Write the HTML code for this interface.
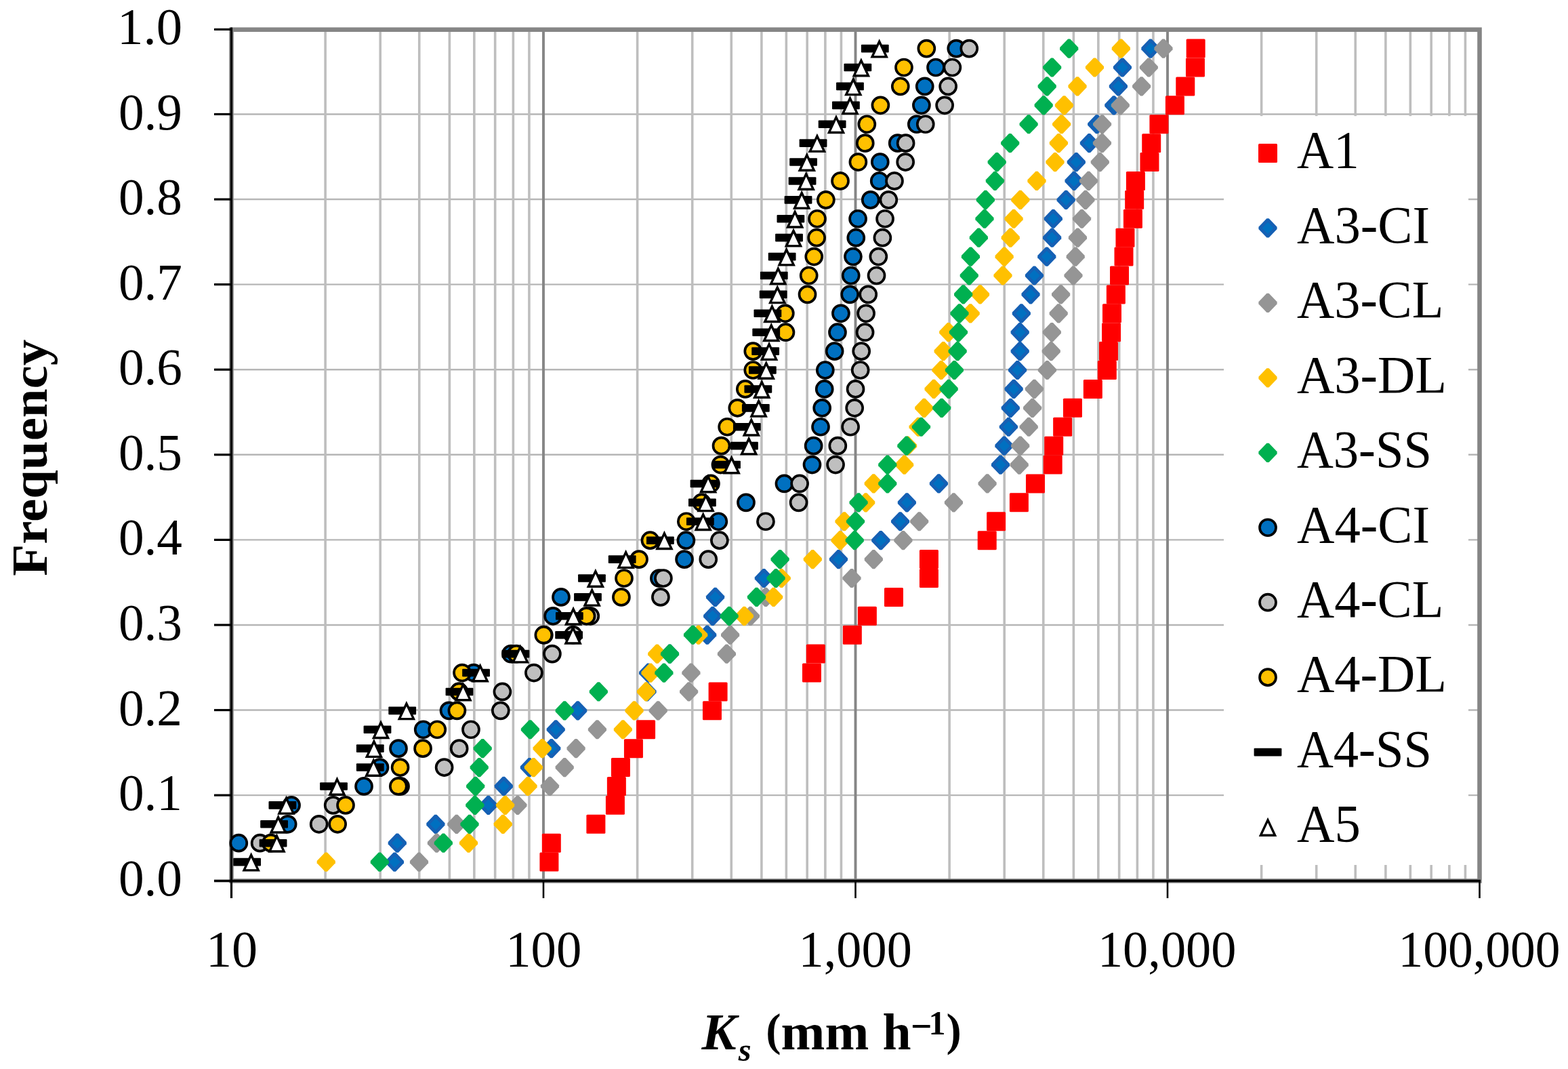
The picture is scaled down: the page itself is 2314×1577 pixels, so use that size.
<!DOCTYPE html><html><head><meta charset="utf-8"><style>html,body{margin:0;padding:0;background:#fff;}svg{display:block;}</style></head><body>
<svg width="2314" height="1577" viewBox="0 0 2314 1577">
<rect x="0" y="0" width="2314" height="1577" fill="#fff"/>
<defs>
<path id="dm" d="M-1.6,-14.1 L1.6,-14.1 L13.6,-1.6 L13.6,1.6 L1.6,14.1 L-1.6,14.1 L-13.6,1.6 L-13.6,-1.6 Z"/>
</defs>
<line x1="341.5" y1="1173.12" x2="2183.5" y2="1173.12" stroke="#B6B6B6" stroke-width="2.4"/>
<line x1="341.5" y1="1047.54" x2="2183.5" y2="1047.54" stroke="#B6B6B6" stroke-width="2.4"/>
<line x1="341.5" y1="921.96" x2="2183.5" y2="921.96" stroke="#B6B6B6" stroke-width="2.4"/>
<line x1="341.5" y1="796.38" x2="2183.5" y2="796.38" stroke="#B6B6B6" stroke-width="2.4"/>
<line x1="341.5" y1="670.80" x2="2183.5" y2="670.80" stroke="#B6B6B6" stroke-width="2.4"/>
<line x1="341.5" y1="545.22" x2="2183.5" y2="545.22" stroke="#B6B6B6" stroke-width="2.4"/>
<line x1="341.5" y1="419.64" x2="2183.5" y2="419.64" stroke="#B6B6B6" stroke-width="2.4"/>
<line x1="341.5" y1="294.06" x2="2183.5" y2="294.06" stroke="#B6B6B6" stroke-width="2.4"/>
<line x1="341.5" y1="168.48" x2="2183.5" y2="168.48" stroke="#B6B6B6" stroke-width="2.4"/>
<line x1="480.12" y1="43.7" x2="480.12" y2="1299.5" stroke="#BEBEBE" stroke-width="3.6"/>
<line x1="561.21" y1="43.7" x2="561.21" y2="1299.5" stroke="#BEBEBE" stroke-width="3.6"/>
<line x1="618.75" y1="43.7" x2="618.75" y2="1299.5" stroke="#BEBEBE" stroke-width="3.6"/>
<line x1="663.38" y1="43.7" x2="663.38" y2="1299.5" stroke="#BEBEBE" stroke-width="3.6"/>
<line x1="699.84" y1="43.7" x2="699.84" y2="1299.5" stroke="#BEBEBE" stroke-width="3.6"/>
<line x1="730.67" y1="43.7" x2="730.67" y2="1299.5" stroke="#BEBEBE" stroke-width="3.6"/>
<line x1="757.37" y1="43.7" x2="757.37" y2="1299.5" stroke="#BEBEBE" stroke-width="3.6"/>
<line x1="780.93" y1="43.7" x2="780.93" y2="1299.5" stroke="#BEBEBE" stroke-width="3.6"/>
<line x1="940.62" y1="43.7" x2="940.62" y2="1299.5" stroke="#BEBEBE" stroke-width="3.6"/>
<line x1="1021.71" y1="43.7" x2="1021.71" y2="1299.5" stroke="#BEBEBE" stroke-width="3.6"/>
<line x1="1079.25" y1="43.7" x2="1079.25" y2="1299.5" stroke="#BEBEBE" stroke-width="3.6"/>
<line x1="1123.88" y1="43.7" x2="1123.88" y2="1299.5" stroke="#BEBEBE" stroke-width="3.6"/>
<line x1="1160.34" y1="43.7" x2="1160.34" y2="1299.5" stroke="#BEBEBE" stroke-width="3.6"/>
<line x1="1191.17" y1="43.7" x2="1191.17" y2="1299.5" stroke="#BEBEBE" stroke-width="3.6"/>
<line x1="1217.87" y1="43.7" x2="1217.87" y2="1299.5" stroke="#BEBEBE" stroke-width="3.6"/>
<line x1="1241.43" y1="43.7" x2="1241.43" y2="1299.5" stroke="#BEBEBE" stroke-width="3.6"/>
<line x1="1401.12" y1="43.7" x2="1401.12" y2="1299.5" stroke="#BEBEBE" stroke-width="3.6"/>
<line x1="1482.21" y1="43.7" x2="1482.21" y2="1299.5" stroke="#BEBEBE" stroke-width="3.6"/>
<line x1="1539.75" y1="43.7" x2="1539.75" y2="1299.5" stroke="#BEBEBE" stroke-width="3.6"/>
<line x1="1584.38" y1="43.7" x2="1584.38" y2="1299.5" stroke="#BEBEBE" stroke-width="3.6"/>
<line x1="1620.84" y1="43.7" x2="1620.84" y2="1299.5" stroke="#BEBEBE" stroke-width="3.6"/>
<line x1="1651.67" y1="43.7" x2="1651.67" y2="1299.5" stroke="#BEBEBE" stroke-width="3.6"/>
<line x1="1678.37" y1="43.7" x2="1678.37" y2="1299.5" stroke="#BEBEBE" stroke-width="3.6"/>
<line x1="1701.93" y1="43.7" x2="1701.93" y2="1299.5" stroke="#BEBEBE" stroke-width="3.6"/>
<line x1="1861.62" y1="43.7" x2="1861.62" y2="1299.5" stroke="#BEBEBE" stroke-width="3.6"/>
<line x1="1942.71" y1="43.7" x2="1942.71" y2="1299.5" stroke="#BEBEBE" stroke-width="3.6"/>
<line x1="2000.25" y1="43.7" x2="2000.25" y2="1299.5" stroke="#BEBEBE" stroke-width="3.6"/>
<line x1="2044.88" y1="43.7" x2="2044.88" y2="1299.5" stroke="#BEBEBE" stroke-width="3.6"/>
<line x1="2081.34" y1="43.7" x2="2081.34" y2="1299.5" stroke="#BEBEBE" stroke-width="3.6"/>
<line x1="2112.17" y1="43.7" x2="2112.17" y2="1299.5" stroke="#BEBEBE" stroke-width="3.6"/>
<line x1="2138.87" y1="43.7" x2="2138.87" y2="1299.5" stroke="#BEBEBE" stroke-width="3.6"/>
<line x1="2162.43" y1="43.7" x2="2162.43" y2="1299.5" stroke="#BEBEBE" stroke-width="3.6"/>
<line x1="802.00" y1="43.7" x2="802.00" y2="1299.5" stroke="#868686" stroke-width="3.9"/>
<line x1="1262.50" y1="43.7" x2="1262.50" y2="1299.5" stroke="#868686" stroke-width="3.9"/>
<line x1="1723.00" y1="43.7" x2="1723.00" y2="1299.5" stroke="#868686" stroke-width="3.9"/>
<rect x="341.5" y="43.7" width="1842.0" height="1255.8" fill="none" stroke="#858585" stroke-width="6.6"/>
<line x1="341.5" y1="40.400000000000006" x2="341.5" y2="1325.0" stroke="#000" stroke-width="3.2"/>
<line x1="316" y1="1299.5" x2="2185.0" y2="1299.5" stroke="#000" stroke-width="3.4"/>
<line x1="316" y1="1299.50" x2="341.5" y2="1299.50" stroke="#000" stroke-width="3.2"/>
<line x1="316" y1="1173.12" x2="341.5" y2="1173.12" stroke="#000" stroke-width="3.2"/>
<line x1="316" y1="1047.54" x2="341.5" y2="1047.54" stroke="#000" stroke-width="3.2"/>
<line x1="316" y1="921.96" x2="341.5" y2="921.96" stroke="#000" stroke-width="3.2"/>
<line x1="316" y1="796.38" x2="341.5" y2="796.38" stroke="#000" stroke-width="3.2"/>
<line x1="316" y1="670.80" x2="341.5" y2="670.80" stroke="#000" stroke-width="3.2"/>
<line x1="316" y1="545.22" x2="341.5" y2="545.22" stroke="#000" stroke-width="3.2"/>
<line x1="316" y1="419.64" x2="341.5" y2="419.64" stroke="#000" stroke-width="3.2"/>
<line x1="316" y1="294.06" x2="341.5" y2="294.06" stroke="#000" stroke-width="3.2"/>
<line x1="316" y1="168.48" x2="341.5" y2="168.48" stroke="#000" stroke-width="3.2"/>
<line x1="316" y1="43.40" x2="341.5" y2="43.40" stroke="#000" stroke-width="3.2"/>
<line x1="802.00" y1="1299.5" x2="802.00" y2="1325.0" stroke="#000" stroke-width="2.6"/>
<line x1="1262.50" y1="1299.5" x2="1262.50" y2="1325.0" stroke="#000" stroke-width="2.6"/>
<line x1="1723.00" y1="1299.5" x2="1723.00" y2="1325.0" stroke="#000" stroke-width="2.6"/>
<line x1="2183.50" y1="1299.5" x2="2183.50" y2="1325.0" stroke="#000" stroke-width="2.6"/>
<rect x="1806" y="171.2" width="361" height="1104.8" fill="#fff"/>
<g>
<rect x="796.42" y="1257.59" width="28" height="28" rx="1.5" fill="#FF0000"/>
<rect x="799.82" y="1229.69" width="28" height="28" rx="1.5" fill="#FF0000"/>
<rect x="865.39" y="1201.78" width="28" height="28" rx="1.5" fill="#FF0000"/>
<rect x="893.92" y="1173.87" width="28" height="28" rx="1.5" fill="#FF0000"/>
<rect x="895.86" y="1145.97" width="28" height="28" rx="1.5" fill="#FF0000"/>
<rect x="901.91" y="1118.06" width="28" height="28" rx="1.5" fill="#FF0000"/>
<rect x="920.93" y="1090.15" width="28" height="28" rx="1.5" fill="#FF0000"/>
<rect x="939.08" y="1062.25" width="28" height="28" rx="1.5" fill="#FF0000"/>
<rect x="1036.96" y="1034.34" width="28" height="28" rx="1.5" fill="#FF0000"/>
<rect x="1045.60" y="1006.43" width="28" height="28" rx="1.5" fill="#FF0000"/>
<rect x="1183.97" y="978.53" width="28" height="28" rx="1.5" fill="#FF0000"/>
<rect x="1189.80" y="950.62" width="28" height="28" rx="1.5" fill="#FF0000"/>
<rect x="1243.82" y="922.71" width="28" height="28" rx="1.5" fill="#FF0000"/>
<rect x="1265.86" y="894.81" width="28" height="28" rx="1.5" fill="#FF0000"/>
<rect x="1304.97" y="866.90" width="28" height="28" rx="1.5" fill="#FF0000"/>
<rect x="1356.92" y="838.99" width="28" height="28" rx="1.5" fill="#FF0000"/>
<rect x="1356.92" y="811.09" width="28" height="28" rx="1.5" fill="#FF0000"/>
<rect x="1442.70" y="783.18" width="28" height="28" rx="1.5" fill="#FF0000"/>
<rect x="1456.10" y="755.27" width="28" height="28" rx="1.5" fill="#FF0000"/>
<rect x="1489.89" y="727.37" width="28" height="28" rx="1.5" fill="#FF0000"/>
<rect x="1513.96" y="699.46" width="28" height="28" rx="1.5" fill="#FF0000"/>
<rect x="1539.67" y="671.55" width="28" height="28" rx="1.5" fill="#FF0000"/>
<rect x="1541.19" y="643.65" width="28" height="28" rx="1.5" fill="#FF0000"/>
<rect x="1554.15" y="615.74" width="28" height="28" rx="1.5" fill="#FF0000"/>
<rect x="1568.93" y="587.83" width="28" height="28" rx="1.5" fill="#FF0000"/>
<rect x="1598.83" y="559.93" width="28" height="28" rx="1.5" fill="#FF0000"/>
<rect x="1619.79" y="532.02" width="28" height="28" rx="1.5" fill="#FF0000"/>
<rect x="1621.96" y="504.11" width="28" height="28" rx="1.5" fill="#FF0000"/>
<rect x="1626.06" y="476.21" width="28" height="28" rx="1.5" fill="#FF0000"/>
<rect x="1626.97" y="448.30" width="28" height="28" rx="1.5" fill="#FF0000"/>
<rect x="1632.85" y="420.39" width="28" height="28" rx="1.5" fill="#FF0000"/>
<rect x="1638.03" y="392.49" width="28" height="28" rx="1.5" fill="#FF0000"/>
<rect x="1644.51" y="364.58" width="28" height="28" rx="1.5" fill="#FF0000"/>
<rect x="1646.46" y="336.67" width="28" height="28" rx="1.5" fill="#FF0000"/>
<rect x="1657.91" y="308.77" width="28" height="28" rx="1.5" fill="#FF0000"/>
<rect x="1660.16" y="280.86" width="28" height="28" rx="1.5" fill="#FF0000"/>
<rect x="1661.89" y="252.95" width="28" height="28" rx="1.5" fill="#FF0000"/>
<rect x="1682.46" y="225.05" width="28" height="28" rx="1.5" fill="#FF0000"/>
<rect x="1685.22" y="197.14" width="28" height="28" rx="1.5" fill="#FF0000"/>
<rect x="1696.41" y="169.23" width="28" height="28" rx="1.5" fill="#FF0000"/>
<rect x="1719.88" y="141.33" width="28" height="28" rx="1.5" fill="#FF0000"/>
<rect x="1735.27" y="113.42" width="28" height="28" rx="1.5" fill="#FF0000"/>
<rect x="1749.96" y="85.51" width="28" height="28" rx="1.5" fill="#FF0000"/>
<rect x="1750.65" y="57.61" width="28" height="28" rx="1.5" fill="#FF0000"/>
<use href="#dm" x="582.41" y="1271.59" fill="#1560B4"/><path d="M582.41,1262.99 L590.81,1271.59 L582.41,1280.19 L574.01,1271.59 Z" fill="#0070C0"/>
<use href="#dm" x="586.30" y="1243.69" fill="#1560B4"/><path d="M586.30,1235.09 L594.70,1243.69 L586.30,1252.29 L577.90,1243.69 Z" fill="#0070C0"/>
<use href="#dm" x="642.91" y="1215.78" fill="#1560B4"/><path d="M642.91,1207.18 L651.31,1215.78 L642.91,1224.38 L634.51,1215.78 Z" fill="#0070C0"/>
<use href="#dm" x="720.70" y="1187.87" fill="#1560B4"/><path d="M720.70,1179.27 L729.10,1187.87 L720.70,1196.47 L712.30,1187.87 Z" fill="#0070C0"/>
<use href="#dm" x="743.38" y="1159.97" fill="#1560B4"/><path d="M743.38,1151.37 L751.78,1159.97 L743.38,1168.57 L734.98,1159.97 Z" fill="#0070C0"/>
<use href="#dm" x="781.37" y="1132.06" fill="#1560B4"/><path d="M781.37,1123.46 L789.77,1132.06 L781.37,1140.66 L772.97,1132.06 Z" fill="#0070C0"/>
<use href="#dm" x="813.79" y="1104.15" fill="#1560B4"/><path d="M813.79,1095.55 L822.19,1104.15 L813.79,1112.75 L805.39,1104.15 Z" fill="#0070C0"/>
<use href="#dm" x="820.27" y="1076.25" fill="#1560B4"/><path d="M820.27,1067.65 L828.67,1076.25 L820.27,1084.85 L811.87,1076.25 Z" fill="#0070C0"/>
<use href="#dm" x="852.68" y="1048.34" fill="#1560B4"/><path d="M852.68,1039.74 L861.08,1048.34 L852.68,1056.94 L844.28,1048.34 Z" fill="#0070C0"/>
<use href="#dm" x="955.02" y="1020.43" fill="#1560B4"/><path d="M955.02,1011.83 L963.42,1020.43 L955.02,1029.03 L946.62,1020.43 Z" fill="#0070C0"/>
<use href="#dm" x="956.64" y="992.53" fill="#1560B4"/><path d="M956.64,983.93 L965.04,992.53 L956.64,1001.13 L948.24,992.53 Z" fill="#0070C0"/>
<use href="#dm" x="988.43" y="964.62" fill="#1560B4"/><path d="M988.43,956.02 L996.83,964.62 L988.43,973.22 L980.03,964.62 Z" fill="#0070C0"/>
<use href="#dm" x="1043.69" y="936.71" fill="#1560B4"/><path d="M1043.69,928.11 L1052.09,936.71 L1043.69,945.31 L1035.29,936.71 Z" fill="#0070C0"/>
<use href="#dm" x="1051.69" y="908.81" fill="#1560B4"/><path d="M1051.69,900.21 L1060.09,908.81 L1051.69,917.41 L1043.29,908.81 Z" fill="#0070C0"/>
<use href="#dm" x="1055.57" y="880.90" fill="#1560B4"/><path d="M1055.57,872.30 L1063.97,880.90 L1055.57,889.50 L1047.17,880.90 Z" fill="#0070C0"/>
<use href="#dm" x="1127.36" y="852.99" fill="#1560B4"/><path d="M1127.36,844.39 L1135.76,852.99 L1127.36,861.59 L1118.96,852.99 Z" fill="#0070C0"/>
<use href="#dm" x="1237.47" y="825.09" fill="#1560B4"/><path d="M1237.47,816.49 L1245.87,825.09 L1237.47,833.69 L1229.07,825.09 Z" fill="#0070C0"/>
<use href="#dm" x="1299.83" y="797.18" fill="#1560B4"/><path d="M1299.83,788.58 L1308.23,797.18 L1299.83,805.78 L1291.43,797.18 Z" fill="#0070C0"/>
<use href="#dm" x="1328.57" y="769.27" fill="#1560B4"/><path d="M1328.57,760.67 L1336.97,769.27 L1328.57,777.87 L1320.17,769.27 Z" fill="#0070C0"/>
<use href="#dm" x="1338.38" y="741.37" fill="#1560B4"/><path d="M1338.38,732.77 L1346.78,741.37 L1338.38,749.97 L1329.98,741.37 Z" fill="#0070C0"/>
<use href="#dm" x="1385.39" y="713.46" fill="#1560B4"/><path d="M1385.39,704.86 L1393.79,713.46 L1385.39,722.06 L1376.99,713.46 Z" fill="#0070C0"/>
<use href="#dm" x="1476.53" y="685.55" fill="#1560B4"/><path d="M1476.53,676.95 L1484.93,685.55 L1476.53,694.15 L1468.13,685.55 Z" fill="#0070C0"/>
<use href="#dm" x="1481.94" y="657.65" fill="#1560B4"/><path d="M1481.94,649.05 L1490.34,657.65 L1481.94,666.25 L1473.54,657.65 Z" fill="#0070C0"/>
<use href="#dm" x="1488.42" y="629.74" fill="#1560B4"/><path d="M1488.42,621.14 L1496.82,629.74 L1488.42,638.34 L1480.02,629.74 Z" fill="#0070C0"/>
<use href="#dm" x="1491.31" y="601.83" fill="#1560B4"/><path d="M1491.31,593.23 L1499.71,601.83 L1491.31,610.43 L1482.91,601.83 Z" fill="#0070C0"/>
<use href="#dm" x="1496.15" y="573.93" fill="#1560B4"/><path d="M1496.15,565.33 L1504.55,573.93 L1496.15,582.53 L1487.75,573.93 Z" fill="#0070C0"/>
<use href="#dm" x="1501.56" y="546.02" fill="#1560B4"/><path d="M1501.56,537.42 L1509.96,546.02 L1501.56,554.62 L1493.16,546.02 Z" fill="#0070C0"/>
<use href="#dm" x="1505.23" y="518.11" fill="#1560B4"/><path d="M1505.23,509.51 L1513.63,518.11 L1505.23,526.71 L1496.83,518.11 Z" fill="#0070C0"/>
<use href="#dm" x="1505.23" y="490.21" fill="#1560B4"/><path d="M1505.23,481.61 L1513.63,490.21 L1505.23,498.81 L1496.83,490.21 Z" fill="#0070C0"/>
<use href="#dm" x="1507.32" y="462.30" fill="#1560B4"/><path d="M1507.32,453.70 L1515.72,462.30 L1507.32,470.90 L1498.92,462.30 Z" fill="#0070C0"/>
<use href="#dm" x="1521.05" y="434.39" fill="#1560B4"/><path d="M1521.05,425.79 L1529.45,434.39 L1521.05,442.99 L1512.65,434.39 Z" fill="#0070C0"/>
<use href="#dm" x="1526.45" y="406.49" fill="#1560B4"/><path d="M1526.45,397.89 L1534.85,406.49 L1526.45,415.09 L1518.05,406.49 Z" fill="#0070C0"/>
<use href="#dm" x="1544.81" y="378.58" fill="#1560B4"/><path d="M1544.81,369.98 L1553.21,378.58 L1544.81,387.18 L1536.41,378.58 Z" fill="#0070C0"/>
<use href="#dm" x="1552.64" y="350.67" fill="#1560B4"/><path d="M1552.64,342.07 L1561.04,350.67 L1552.64,359.27 L1544.24,350.67 Z" fill="#0070C0"/>
<use href="#dm" x="1554.36" y="322.77" fill="#1560B4"/><path d="M1554.36,314.17 L1562.76,322.77 L1554.36,331.37 L1545.96,322.77 Z" fill="#0070C0"/>
<use href="#dm" x="1573.21" y="294.86" fill="#1560B4"/><path d="M1573.21,286.26 L1581.61,294.86 L1573.21,303.46 L1564.81,294.86 Z" fill="#0070C0"/>
<use href="#dm" x="1585.09" y="266.95" fill="#1560B4"/><path d="M1585.09,258.35 L1593.49,266.95 L1585.09,275.55 L1576.69,266.95 Z" fill="#0070C0"/>
<use href="#dm" x="1588.33" y="239.05" fill="#1560B4"/><path d="M1588.33,230.45 L1596.73,239.05 L1588.33,247.65 L1579.93,239.05 Z" fill="#0070C0"/>
<use href="#dm" x="1607.43" y="211.14" fill="#1560B4"/><path d="M1607.43,202.54 L1615.83,211.14 L1607.43,219.74 L1599.03,211.14 Z" fill="#0070C0"/>
<use href="#dm" x="1618.71" y="183.23" fill="#1560B4"/><path d="M1618.71,174.63 L1627.11,183.23 L1618.71,191.83 L1610.31,183.23 Z" fill="#0070C0"/>
<use href="#dm" x="1643.82" y="155.33" fill="#1560B4"/><path d="M1643.82,146.73 L1652.22,155.33 L1643.82,163.93 L1635.42,155.33 Z" fill="#0070C0"/>
<use href="#dm" x="1650.39" y="127.42" fill="#1560B4"/><path d="M1650.39,118.82 L1658.79,127.42 L1650.39,136.02 L1641.99,127.42 Z" fill="#0070C0"/>
<use href="#dm" x="1656.44" y="99.51" fill="#1560B4"/><path d="M1656.44,90.91 L1664.84,99.51 L1656.44,108.11 L1648.04,99.51 Z" fill="#0070C0"/>
<use href="#dm" x="1697.93" y="71.61" fill="#1560B4"/><path d="M1697.93,63.01 L1706.33,71.61 L1697.93,80.21 L1689.53,71.61 Z" fill="#0070C0"/>
<use href="#dm" x="618.49" y="1271.59" fill="#959595"/>
<use href="#dm" x="644.42" y="1243.69" fill="#959595"/>
<use href="#dm" x="673.81" y="1215.78" fill="#959595"/>
<use href="#dm" x="763.91" y="1187.87" fill="#959595"/>
<use href="#dm" x="811.45" y="1159.97" fill="#959595"/>
<use href="#dm" x="833.23" y="1132.06" fill="#959595"/>
<use href="#dm" x="850.09" y="1104.15" fill="#959595"/>
<use href="#dm" x="881.42" y="1076.25" fill="#959595"/>
<use href="#dm" x="971.23" y="1048.34" fill="#959595"/>
<use href="#dm" x="1016.60" y="1020.43" fill="#959595"/>
<use href="#dm" x="1019.89" y="992.53" fill="#959595"/>
<use href="#dm" x="1072.43" y="964.62" fill="#959595"/>
<use href="#dm" x="1077.61" y="936.71" fill="#959595"/>
<use href="#dm" x="1107.43" y="908.81" fill="#959595"/>
<use href="#dm" x="1130.12" y="880.90" fill="#959595"/>
<use href="#dm" x="1257.00" y="852.99" fill="#959595"/>
<use href="#dm" x="1289.33" y="825.09" fill="#959595"/>
<use href="#dm" x="1332.89" y="797.18" fill="#959595"/>
<use href="#dm" x="1356.66" y="769.27" fill="#959595"/>
<use href="#dm" x="1407.41" y="741.37" fill="#959595"/>
<use href="#dm" x="1457.09" y="713.46" fill="#959595"/>
<use href="#dm" x="1504.19" y="685.55" fill="#959595"/>
<use href="#dm" x="1505.70" y="657.65" fill="#959595"/>
<use href="#dm" x="1518.24" y="629.74" fill="#959595"/>
<use href="#dm" x="1523.62" y="601.83" fill="#959595"/>
<use href="#dm" x="1526.40" y="573.93" fill="#959595"/>
<use href="#dm" x="1545.42" y="546.02" fill="#959595"/>
<use href="#dm" x="1551.25" y="518.11" fill="#959595"/>
<use href="#dm" x="1552.33" y="490.21" fill="#959595"/>
<use href="#dm" x="1562.21" y="462.30" fill="#959595"/>
<use href="#dm" x="1565.60" y="434.39" fill="#959595"/>
<use href="#dm" x="1583.97" y="406.49" fill="#959595"/>
<use href="#dm" x="1587.21" y="378.58" fill="#959595"/>
<use href="#dm" x="1590.45" y="350.67" fill="#959595"/>
<use href="#dm" x="1596.52" y="322.77" fill="#959595"/>
<use href="#dm" x="1601.90" y="294.86" fill="#959595"/>
<use href="#dm" x="1606.57" y="266.95" fill="#959595"/>
<use href="#dm" x="1623.34" y="239.05" fill="#959595"/>
<use href="#dm" x="1626.45" y="211.14" fill="#959595"/>
<use href="#dm" x="1626.58" y="183.23" fill="#959595"/>
<use href="#dm" x="1653.33" y="155.33" fill="#959595"/>
<use href="#dm" x="1684.62" y="127.42" fill="#959595"/>
<use href="#dm" x="1695.33" y="99.51" fill="#959595"/>
<use href="#dm" x="1716.94" y="71.61" fill="#959595"/>
<use href="#dm" x="481.28" y="1271.59" fill="#FFC000"/>
<use href="#dm" x="691.53" y="1243.69" fill="#FFC000"/>
<use href="#dm" x="742.30" y="1215.78" fill="#FFC000"/>
<use href="#dm" x="745.54" y="1187.87" fill="#FFC000"/>
<use href="#dm" x="779.04" y="1159.97" fill="#FFC000"/>
<use href="#dm" x="787.42" y="1132.06" fill="#FFC000"/>
<use href="#dm" x="800.17" y="1104.15" fill="#FFC000"/>
<use href="#dm" x="919.37" y="1076.25" fill="#FFC000"/>
<use href="#dm" x="936.01" y="1048.34" fill="#FFC000"/>
<use href="#dm" x="953.51" y="1020.43" fill="#FFC000"/>
<use href="#dm" x="960.03" y="992.53" fill="#FFC000"/>
<use href="#dm" x="969.76" y="964.62" fill="#FFC000"/>
<use href="#dm" x="1030.73" y="936.71" fill="#FFC000"/>
<use href="#dm" x="1098.36" y="908.81" fill="#FFC000"/>
<use href="#dm" x="1141.57" y="880.90" fill="#FFC000"/>
<use href="#dm" x="1153.28" y="852.99" fill="#FFC000"/>
<use href="#dm" x="1199.31" y="825.09" fill="#FFC000"/>
<use href="#dm" x="1240.06" y="797.18" fill="#FFC000"/>
<use href="#dm" x="1246.00" y="769.27" fill="#FFC000"/>
<use href="#dm" x="1277.66" y="741.37" fill="#FFC000"/>
<use href="#dm" x="1289.24" y="713.46" fill="#FFC000"/>
<use href="#dm" x="1334.62" y="685.55" fill="#FFC000"/>
<use href="#dm" x="1339.59" y="657.65" fill="#FFC000"/>
<use href="#dm" x="1355.14" y="629.74" fill="#FFC000"/>
<use href="#dm" x="1363.79" y="601.83" fill="#FFC000"/>
<use href="#dm" x="1378.13" y="573.93" fill="#FFC000"/>
<use href="#dm" x="1388.94" y="546.02" fill="#FFC000"/>
<use href="#dm" x="1392.18" y="518.11" fill="#FFC000"/>
<use href="#dm" x="1399.74" y="490.21" fill="#FFC000"/>
<use href="#dm" x="1432.15" y="462.30" fill="#FFC000"/>
<use href="#dm" x="1446.50" y="434.39" fill="#FFC000"/>
<use href="#dm" x="1479.99" y="406.49" fill="#FFC000"/>
<use href="#dm" x="1482.15" y="378.58" fill="#FFC000"/>
<use href="#dm" x="1491.25" y="350.67" fill="#FFC000"/>
<use href="#dm" x="1496.11" y="322.77" fill="#FFC000"/>
<use href="#dm" x="1505.79" y="294.86" fill="#FFC000"/>
<use href="#dm" x="1529.99" y="266.95" fill="#FFC000"/>
<use href="#dm" x="1557.00" y="239.05" fill="#FFC000"/>
<use href="#dm" x="1562.40" y="211.14" fill="#FFC000"/>
<use href="#dm" x="1566.64" y="183.23" fill="#FFC000"/>
<use href="#dm" x="1570.48" y="155.33" fill="#FFC000"/>
<use href="#dm" x="1590.02" y="127.42" fill="#FFC000"/>
<use href="#dm" x="1615.47" y="99.51" fill="#FFC000"/>
<use href="#dm" x="1654.36" y="71.61" fill="#FFC000"/>
<use href="#dm" x="560.37" y="1271.59" fill="#00B050"/>
<use href="#dm" x="654.36" y="1243.69" fill="#00B050"/>
<use href="#dm" x="693.04" y="1215.78" fill="#00B050"/>
<use href="#dm" x="700.82" y="1187.87" fill="#00B050"/>
<use href="#dm" x="701.68" y="1159.97" fill="#00B050"/>
<use href="#dm" x="707.26" y="1132.06" fill="#00B050"/>
<use href="#dm" x="712.23" y="1104.15" fill="#00B050"/>
<use href="#dm" x="782.45" y="1076.25" fill="#00B050"/>
<use href="#dm" x="833.23" y="1048.34" fill="#00B050"/>
<use href="#dm" x="883.36" y="1020.43" fill="#00B050"/>
<use href="#dm" x="979.87" y="992.53" fill="#00B050"/>
<use href="#dm" x="988.51" y="964.62" fill="#00B050"/>
<use href="#dm" x="1022.52" y="936.71" fill="#00B050"/>
<use href="#dm" x="1076.10" y="908.81" fill="#00B050"/>
<use href="#dm" x="1116.51" y="880.90" fill="#00B050"/>
<use href="#dm" x="1145.07" y="852.99" fill="#00B050"/>
<use href="#dm" x="1151.12" y="825.09" fill="#00B050"/>
<use href="#dm" x="1261.24" y="797.18" fill="#00B050"/>
<use href="#dm" x="1262.53" y="769.27" fill="#00B050"/>
<use href="#dm" x="1267.07" y="741.37" fill="#00B050"/>
<use href="#dm" x="1309.77" y="713.46" fill="#00B050"/>
<use href="#dm" x="1309.77" y="685.55" fill="#00B050"/>
<use href="#dm" x="1337.86" y="657.65" fill="#00B050"/>
<use href="#dm" x="1359.46" y="629.74" fill="#00B050"/>
<use href="#dm" x="1389.71" y="601.83" fill="#00B050"/>
<use href="#dm" x="1400.17" y="573.93" fill="#00B050"/>
<use href="#dm" x="1408.38" y="546.02" fill="#00B050"/>
<use href="#dm" x="1413.14" y="518.11" fill="#00B050"/>
<use href="#dm" x="1414.43" y="490.21" fill="#00B050"/>
<use href="#dm" x="1415.95" y="462.30" fill="#00B050"/>
<use href="#dm" x="1421.65" y="434.39" fill="#00B050"/>
<use href="#dm" x="1430.29" y="406.49" fill="#00B050"/>
<use href="#dm" x="1432.45" y="378.58" fill="#00B050"/>
<use href="#dm" x="1444.34" y="350.67" fill="#00B050"/>
<use href="#dm" x="1452.98" y="322.77" fill="#00B050"/>
<use href="#dm" x="1454.36" y="294.86" fill="#00B050"/>
<use href="#dm" x="1468.41" y="266.95" fill="#00B050"/>
<use href="#dm" x="1471.22" y="239.05" fill="#00B050"/>
<use href="#dm" x="1490.67" y="211.14" fill="#00B050"/>
<use href="#dm" x="1518.13" y="183.23" fill="#00B050"/>
<use href="#dm" x="1540.19" y="155.33" fill="#00B050"/>
<use href="#dm" x="1545.20" y="127.42" fill="#00B050"/>
<use href="#dm" x="1552.64" y="99.51" fill="#00B050"/>
<use href="#dm" x="1577.70" y="71.61" fill="#00B050"/>
<circle cx="352.29" cy="1243.69" r="12" fill="#0070C0" stroke="#000" stroke-width="3.7"/>
<circle cx="424.67" cy="1215.78" r="12" fill="#0070C0" stroke="#000" stroke-width="3.7"/>
<circle cx="430.07" cy="1187.87" r="12" fill="#0070C0" stroke="#000" stroke-width="3.7"/>
<circle cx="537.03" cy="1159.97" r="12" fill="#0070C0" stroke="#000" stroke-width="3.7"/>
<circle cx="560.54" cy="1132.06" r="12" fill="#0070C0" stroke="#000" stroke-width="3.7"/>
<circle cx="587.99" cy="1104.15" r="12" fill="#0070C0" stroke="#000" stroke-width="3.7"/>
<circle cx="624.72" cy="1076.25" r="12" fill="#0070C0" stroke="#000" stroke-width="3.7"/>
<circle cx="662.53" cy="1048.34" r="12" fill="#0070C0" stroke="#000" stroke-width="3.7"/>
<circle cx="677.40" cy="1020.43" r="12" fill="#0070C0" stroke="#000" stroke-width="3.7"/>
<circle cx="699.00" cy="992.53" r="12" fill="#0070C0" stroke="#000" stroke-width="3.7"/>
<circle cx="754.00" cy="964.62" r="12" fill="#0070C0" stroke="#000" stroke-width="3.7"/>
<circle cx="802.82" cy="936.71" r="12" fill="#0070C0" stroke="#000" stroke-width="3.7"/>
<circle cx="816.13" cy="908.81" r="12" fill="#0070C0" stroke="#000" stroke-width="3.7"/>
<circle cx="828.01" cy="880.90" r="12" fill="#0070C0" stroke="#000" stroke-width="3.7"/>
<circle cx="972.86" cy="852.99" r="12" fill="#0070C0" stroke="#000" stroke-width="3.7"/>
<circle cx="1010.03" cy="825.09" r="12" fill="#0070C0" stroke="#000" stroke-width="3.7"/>
<circle cx="1012.40" cy="797.18" r="12" fill="#0070C0" stroke="#000" stroke-width="3.7"/>
<circle cx="1060.37" cy="769.27" r="12" fill="#0070C0" stroke="#000" stroke-width="3.7"/>
<circle cx="1100.99" cy="741.37" r="12" fill="#0070C0" stroke="#000" stroke-width="3.7"/>
<circle cx="1157.43" cy="713.46" r="12" fill="#0070C0" stroke="#000" stroke-width="3.7"/>
<circle cx="1198.49" cy="685.55" r="12" fill="#0070C0" stroke="#000" stroke-width="3.7"/>
<circle cx="1200.65" cy="657.65" r="12" fill="#0070C0" stroke="#000" stroke-width="3.7"/>
<circle cx="1211.02" cy="629.74" r="12" fill="#0070C0" stroke="#000" stroke-width="3.7"/>
<circle cx="1213.18" cy="601.83" r="12" fill="#0070C0" stroke="#000" stroke-width="3.7"/>
<circle cx="1216.72" cy="573.93" r="12" fill="#0070C0" stroke="#000" stroke-width="3.7"/>
<circle cx="1217.80" cy="546.02" r="12" fill="#0070C0" stroke="#000" stroke-width="3.7"/>
<circle cx="1231.63" cy="518.11" r="12" fill="#0070C0" stroke="#000" stroke-width="3.7"/>
<circle cx="1235.96" cy="490.21" r="12" fill="#0070C0" stroke="#000" stroke-width="3.7"/>
<circle cx="1240.92" cy="462.30" r="12" fill="#0070C0" stroke="#000" stroke-width="3.7"/>
<circle cx="1254.19" cy="434.39" r="12" fill="#0070C0" stroke="#000" stroke-width="3.7"/>
<circle cx="1255.70" cy="406.49" r="12" fill="#0070C0" stroke="#000" stroke-width="3.7"/>
<circle cx="1258.95" cy="378.58" r="12" fill="#0070C0" stroke="#000" stroke-width="3.7"/>
<circle cx="1263.27" cy="350.67" r="12" fill="#0070C0" stroke="#000" stroke-width="3.7"/>
<circle cx="1266.08" cy="322.77" r="12" fill="#0070C0" stroke="#000" stroke-width="3.7"/>
<circle cx="1284.75" cy="294.86" r="12" fill="#0070C0" stroke="#000" stroke-width="3.7"/>
<circle cx="1297.71" cy="266.95" r="12" fill="#0070C0" stroke="#000" stroke-width="3.7"/>
<circle cx="1298.79" cy="239.05" r="12" fill="#0070C0" stroke="#000" stroke-width="3.7"/>
<circle cx="1324.72" cy="211.14" r="12" fill="#0070C0" stroke="#000" stroke-width="3.7"/>
<circle cx="1352.81" cy="183.23" r="12" fill="#0070C0" stroke="#000" stroke-width="3.7"/>
<circle cx="1359.90" cy="155.33" r="12" fill="#0070C0" stroke="#000" stroke-width="3.7"/>
<circle cx="1364.74" cy="127.42" r="12" fill="#0070C0" stroke="#000" stroke-width="3.7"/>
<circle cx="1380.99" cy="99.51" r="12" fill="#0070C0" stroke="#000" stroke-width="3.7"/>
<circle cx="1411.24" cy="71.61" r="12" fill="#0070C0" stroke="#000" stroke-width="3.7"/>
<circle cx="383.62" cy="1243.69" r="12" fill="#BFBFBF" stroke="#000" stroke-width="3.7"/>
<circle cx="470.70" cy="1215.78" r="12" fill="#BFBFBF" stroke="#000" stroke-width="3.7"/>
<circle cx="491.66" cy="1187.87" r="12" fill="#BFBFBF" stroke="#000" stroke-width="3.7"/>
<circle cx="591.05" cy="1159.97" r="12" fill="#BFBFBF" stroke="#000" stroke-width="3.7"/>
<circle cx="655.62" cy="1132.06" r="12" fill="#BFBFBF" stroke="#000" stroke-width="3.7"/>
<circle cx="677.66" cy="1104.15" r="12" fill="#BFBFBF" stroke="#000" stroke-width="3.7"/>
<circle cx="694.94" cy="1076.25" r="12" fill="#BFBFBF" stroke="#000" stroke-width="3.7"/>
<circle cx="738.81" cy="1048.34" r="12" fill="#BFBFBF" stroke="#000" stroke-width="3.7"/>
<circle cx="741.40" cy="1020.43" r="12" fill="#BFBFBF" stroke="#000" stroke-width="3.7"/>
<circle cx="787.91" cy="992.53" r="12" fill="#BFBFBF" stroke="#000" stroke-width="3.7"/>
<circle cx="814.92" cy="964.62" r="12" fill="#BFBFBF" stroke="#000" stroke-width="3.7"/>
<circle cx="845.79" cy="936.71" r="12" fill="#BFBFBF" stroke="#000" stroke-width="3.7"/>
<circle cx="871.27" cy="908.81" r="12" fill="#BFBFBF" stroke="#000" stroke-width="3.7"/>
<circle cx="974.90" cy="880.90" r="12" fill="#BFBFBF" stroke="#000" stroke-width="3.7"/>
<circle cx="978.91" cy="852.99" r="12" fill="#BFBFBF" stroke="#000" stroke-width="3.7"/>
<circle cx="1045.25" cy="825.09" r="12" fill="#BFBFBF" stroke="#000" stroke-width="3.7"/>
<circle cx="1061.88" cy="797.18" r="12" fill="#BFBFBF" stroke="#000" stroke-width="3.7"/>
<circle cx="1129.95" cy="769.27" r="12" fill="#BFBFBF" stroke="#000" stroke-width="3.7"/>
<circle cx="1178.57" cy="741.37" r="12" fill="#BFBFBF" stroke="#000" stroke-width="3.7"/>
<circle cx="1180.12" cy="713.46" r="12" fill="#BFBFBF" stroke="#000" stroke-width="3.7"/>
<circle cx="1233.06" cy="685.55" r="12" fill="#BFBFBF" stroke="#000" stroke-width="3.7"/>
<circle cx="1236.30" cy="657.65" r="12" fill="#BFBFBF" stroke="#000" stroke-width="3.7"/>
<circle cx="1255.10" cy="629.74" r="12" fill="#BFBFBF" stroke="#000" stroke-width="3.7"/>
<circle cx="1261.15" cy="601.83" r="12" fill="#BFBFBF" stroke="#000" stroke-width="3.7"/>
<circle cx="1262.53" cy="573.93" r="12" fill="#BFBFBF" stroke="#000" stroke-width="3.7"/>
<circle cx="1269.66" cy="546.02" r="12" fill="#BFBFBF" stroke="#000" stroke-width="3.7"/>
<circle cx="1271.18" cy="518.11" r="12" fill="#BFBFBF" stroke="#000" stroke-width="3.7"/>
<circle cx="1276.58" cy="490.21" r="12" fill="#BFBFBF" stroke="#000" stroke-width="3.7"/>
<circle cx="1278.09" cy="462.30" r="12" fill="#BFBFBF" stroke="#000" stroke-width="3.7"/>
<circle cx="1281.20" cy="434.39" r="12" fill="#BFBFBF" stroke="#000" stroke-width="3.7"/>
<circle cx="1293.52" cy="406.49" r="12" fill="#BFBFBF" stroke="#000" stroke-width="3.7"/>
<circle cx="1296.33" cy="378.58" r="12" fill="#BFBFBF" stroke="#000" stroke-width="3.7"/>
<circle cx="1302.38" cy="350.67" r="12" fill="#BFBFBF" stroke="#000" stroke-width="3.7"/>
<circle cx="1306.05" cy="322.77" r="12" fill="#BFBFBF" stroke="#000" stroke-width="3.7"/>
<circle cx="1311.32" cy="294.86" r="12" fill="#BFBFBF" stroke="#000" stroke-width="3.7"/>
<circle cx="1319.97" cy="266.95" r="12" fill="#BFBFBF" stroke="#000" stroke-width="3.7"/>
<circle cx="1336.17" cy="239.05" r="12" fill="#BFBFBF" stroke="#000" stroke-width="3.7"/>
<circle cx="1336.60" cy="211.14" r="12" fill="#BFBFBF" stroke="#000" stroke-width="3.7"/>
<circle cx="1365.77" cy="183.23" r="12" fill="#BFBFBF" stroke="#000" stroke-width="3.7"/>
<circle cx="1394.12" cy="155.33" r="12" fill="#BFBFBF" stroke="#000" stroke-width="3.7"/>
<circle cx="1399.14" cy="127.42" r="12" fill="#BFBFBF" stroke="#000" stroke-width="3.7"/>
<circle cx="1405.36" cy="99.51" r="12" fill="#BFBFBF" stroke="#000" stroke-width="3.7"/>
<circle cx="1430.25" cy="71.61" r="12" fill="#BFBFBF" stroke="#000" stroke-width="3.7"/>
<circle cx="399.82" cy="1243.69" r="12" fill="#FFC000" stroke="#000" stroke-width="3.7"/>
<circle cx="498.14" cy="1215.78" r="12" fill="#FFC000" stroke="#000" stroke-width="3.7"/>
<circle cx="510.02" cy="1187.87" r="12" fill="#FFC000" stroke="#000" stroke-width="3.7"/>
<circle cx="587.81" cy="1159.97" r="12" fill="#FFC000" stroke="#000" stroke-width="3.7"/>
<circle cx="590.58" cy="1132.06" r="12" fill="#FFC000" stroke="#000" stroke-width="3.7"/>
<circle cx="624.07" cy="1104.15" r="12" fill="#FFC000" stroke="#000" stroke-width="3.7"/>
<circle cx="645.25" cy="1076.25" r="12" fill="#FFC000" stroke="#000" stroke-width="3.7"/>
<circle cx="674.42" cy="1048.34" r="12" fill="#FFC000" stroke="#000" stroke-width="3.7"/>
<circle cx="677.50" cy="1020.43" r="12" fill="#FFC000" stroke="#000" stroke-width="3.7"/>
<circle cx="682.03" cy="992.53" r="12" fill="#FFC000" stroke="#000" stroke-width="3.7"/>
<circle cx="762.00" cy="964.62" r="12" fill="#FFC000" stroke="#000" stroke-width="3.7"/>
<circle cx="802.34" cy="936.71" r="12" fill="#FFC000" stroke="#000" stroke-width="3.7"/>
<circle cx="865.57" cy="908.81" r="12" fill="#FFC000" stroke="#000" stroke-width="3.7"/>
<circle cx="916.91" cy="880.90" r="12" fill="#FFC000" stroke="#000" stroke-width="3.7"/>
<circle cx="921.00" cy="852.99" r="12" fill="#FFC000" stroke="#000" stroke-width="3.7"/>
<circle cx="943.04" cy="825.09" r="12" fill="#FFC000" stroke="#000" stroke-width="3.7"/>
<circle cx="959.46" cy="797.18" r="12" fill="#FFC000" stroke="#000" stroke-width="3.7"/>
<circle cx="1012.83" cy="769.27" r="12" fill="#FFC000" stroke="#000" stroke-width="3.7"/>
<circle cx="1035.52" cy="741.37" r="12" fill="#FFC000" stroke="#000" stroke-width="3.7"/>
<circle cx="1048.96" cy="713.46" r="12" fill="#FFC000" stroke="#000" stroke-width="3.7"/>
<circle cx="1063.44" cy="685.55" r="12" fill="#FFC000" stroke="#000" stroke-width="3.7"/>
<circle cx="1064.52" cy="657.65" r="12" fill="#FFC000" stroke="#000" stroke-width="3.7"/>
<circle cx="1073.16" cy="629.74" r="12" fill="#FFC000" stroke="#000" stroke-width="3.7"/>
<circle cx="1088.29" cy="601.83" r="12" fill="#FFC000" stroke="#000" stroke-width="3.7"/>
<circle cx="1099.83" cy="573.93" r="12" fill="#FFC000" stroke="#000" stroke-width="3.7"/>
<circle cx="1111.28" cy="546.02" r="12" fill="#FFC000" stroke="#000" stroke-width="3.7"/>
<circle cx="1111.28" cy="518.11" r="12" fill="#FFC000" stroke="#000" stroke-width="3.7"/>
<circle cx="1159.46" cy="490.21" r="12" fill="#FFC000" stroke="#000" stroke-width="3.7"/>
<circle cx="1158.82" cy="462.30" r="12" fill="#FFC000" stroke="#000" stroke-width="3.7"/>
<circle cx="1191.53" cy="434.39" r="12" fill="#FFC000" stroke="#000" stroke-width="3.7"/>
<circle cx="1193.69" cy="406.49" r="12" fill="#FFC000" stroke="#000" stroke-width="3.7"/>
<circle cx="1201.25" cy="378.58" r="12" fill="#FFC000" stroke="#000" stroke-width="3.7"/>
<circle cx="1205.14" cy="350.67" r="12" fill="#FFC000" stroke="#000" stroke-width="3.7"/>
<circle cx="1206.01" cy="322.77" r="12" fill="#FFC000" stroke="#000" stroke-width="3.7"/>
<circle cx="1218.84" cy="294.86" r="12" fill="#FFC000" stroke="#000" stroke-width="3.7"/>
<circle cx="1240.02" cy="266.95" r="12" fill="#FFC000" stroke="#000" stroke-width="3.7"/>
<circle cx="1266.38" cy="239.05" r="12" fill="#FFC000" stroke="#000" stroke-width="3.7"/>
<circle cx="1276.75" cy="211.14" r="12" fill="#FFC000" stroke="#000" stroke-width="3.7"/>
<circle cx="1279.34" cy="183.23" r="12" fill="#FFC000" stroke="#000" stroke-width="3.7"/>
<circle cx="1299.39" cy="155.33" r="12" fill="#FFC000" stroke="#000" stroke-width="3.7"/>
<circle cx="1328.78" cy="127.42" r="12" fill="#FFC000" stroke="#000" stroke-width="3.7"/>
<circle cx="1333.97" cy="99.51" r="12" fill="#FFC000" stroke="#000" stroke-width="3.7"/>
<circle cx="1367.33" cy="71.61" r="12" fill="#FFC000" stroke="#000" stroke-width="3.7"/>
<rect x="344.20" y="1265.79" width="40.8" height="11.6" rx="1" fill="#000"/>
<rect x="382.66" y="1237.89" width="40.8" height="11.6" rx="1" fill="#000"/>
<rect x="384.18" y="1209.98" width="40.8" height="11.6" rx="1" fill="#000"/>
<rect x="396.49" y="1182.07" width="40.8" height="11.6" rx="1" fill="#000"/>
<rect x="472.12" y="1154.17" width="40.8" height="11.6" rx="1" fill="#000"/>
<rect x="525.88" y="1126.26" width="40.8" height="11.6" rx="1" fill="#000"/>
<rect x="525.88" y="1098.35" width="40.8" height="11.6" rx="1" fill="#000"/>
<rect x="536.58" y="1070.45" width="40.8" height="11.6" rx="1" fill="#000"/>
<rect x="573.31" y="1042.54" width="40.8" height="11.6" rx="1" fill="#000"/>
<rect x="657.58" y="1014.63" width="40.8" height="11.6" rx="1" fill="#000"/>
<rect x="682.16" y="986.73" width="40.8" height="11.6" rx="1" fill="#000"/>
<rect x="740.50" y="958.82" width="40.8" height="11.6" rx="1" fill="#000"/>
<rect x="819.21" y="930.91" width="40.8" height="11.6" rx="1" fill="#000"/>
<rect x="819.97" y="903.01" width="40.8" height="11.6" rx="1" fill="#000"/>
<rect x="847.07" y="875.10" width="40.8" height="11.6" rx="1" fill="#000"/>
<rect x="853.07" y="847.19" width="40.8" height="11.6" rx="1" fill="#000"/>
<rect x="897.79" y="819.29" width="40.8" height="11.6" rx="1" fill="#000"/>
<rect x="953.97" y="791.38" width="40.8" height="11.6" rx="1" fill="#000"/>
<rect x="1012.96" y="763.47" width="40.8" height="11.6" rx="1" fill="#000"/>
<rect x="1015.99" y="735.57" width="40.8" height="11.6" rx="1" fill="#000"/>
<rect x="1018.62" y="707.66" width="40.8" height="11.6" rx="1" fill="#000"/>
<rect x="1052.12" y="679.75" width="40.8" height="11.6" rx="1" fill="#000"/>
<rect x="1078.04" y="651.85" width="40.8" height="11.6" rx="1" fill="#000"/>
<rect x="1081.93" y="623.94" width="40.8" height="11.6" rx="1" fill="#000"/>
<rect x="1094.90" y="596.03" width="40.8" height="11.6" rx="1" fill="#000"/>
<rect x="1098.44" y="568.13" width="40.8" height="11.6" rx="1" fill="#000"/>
<rect x="1104.92" y="540.22" width="40.8" height="11.6" rx="1" fill="#000"/>
<rect x="1109.25" y="512.31" width="40.8" height="11.6" rx="1" fill="#000"/>
<rect x="1110.33" y="484.41" width="40.8" height="11.6" rx="1" fill="#000"/>
<rect x="1112.49" y="456.50" width="40.8" height="11.6" rx="1" fill="#000"/>
<rect x="1120.78" y="428.59" width="40.8" height="11.6" rx="1" fill="#000"/>
<rect x="1121.86" y="400.69" width="40.8" height="11.6" rx="1" fill="#000"/>
<rect x="1133.75" y="372.78" width="40.8" height="11.6" rx="1" fill="#000"/>
<rect x="1144.12" y="344.87" width="40.8" height="11.6" rx="1" fill="#000"/>
<rect x="1146.50" y="316.97" width="40.8" height="11.6" rx="1" fill="#000"/>
<rect x="1157.60" y="289.06" width="40.8" height="11.6" rx="1" fill="#000"/>
<rect x="1163.65" y="261.15" width="40.8" height="11.6" rx="1" fill="#000"/>
<rect x="1165.17" y="233.25" width="40.8" height="11.6" rx="1" fill="#000"/>
<rect x="1179.64" y="205.34" width="40.8" height="11.6" rx="1" fill="#000"/>
<rect x="1207.73" y="177.43" width="40.8" height="11.6" rx="1" fill="#000"/>
<rect x="1228.00" y="149.53" width="40.8" height="11.6" rx="1" fill="#000"/>
<rect x="1234.05" y="121.62" width="40.8" height="11.6" rx="1" fill="#000"/>
<rect x="1245.46" y="93.71" width="40.8" height="11.6" rx="1" fill="#000"/>
<rect x="1270.87" y="65.81" width="40.8" height="11.6" rx="1" fill="#000"/>
<path d="M370.65,1261.24 L381.25,1283.84 L360.05,1283.84 Z" fill="#fff" stroke="#000" stroke-width="3.4" stroke-linejoin="miter" stroke-miterlimit="10"/>
<path d="M408.47,1233.34 L419.07,1255.94 L397.87,1255.94 Z" fill="#fff" stroke="#000" stroke-width="3.4" stroke-linejoin="miter" stroke-miterlimit="10"/>
<path d="M410.63,1205.43 L421.23,1228.03 L400.03,1228.03 Z" fill="#fff" stroke="#000" stroke-width="3.4" stroke-linejoin="miter" stroke-miterlimit="10"/>
<path d="M422.51,1177.52 L433.11,1200.12 L411.91,1200.12 Z" fill="#fff" stroke="#000" stroke-width="3.4" stroke-linejoin="miter" stroke-miterlimit="10"/>
<path d="M497.49,1149.62 L508.09,1172.22 L486.89,1172.22 Z" fill="#fff" stroke="#000" stroke-width="3.4" stroke-linejoin="miter" stroke-miterlimit="10"/>
<path d="M551.25,1121.71 L561.85,1144.31 L540.65,1144.31 Z" fill="#fff" stroke="#000" stroke-width="3.4" stroke-linejoin="miter" stroke-miterlimit="10"/>
<path d="M551.90,1093.80 L562.50,1116.40 L541.30,1116.40 Z" fill="#fff" stroke="#000" stroke-width="3.4" stroke-linejoin="miter" stroke-miterlimit="10"/>
<path d="M562.06,1065.90 L572.66,1088.50 L551.46,1088.50 Z" fill="#fff" stroke="#000" stroke-width="3.4" stroke-linejoin="miter" stroke-miterlimit="10"/>
<path d="M599.87,1037.99 L610.47,1060.59 L589.27,1060.59 Z" fill="#fff" stroke="#000" stroke-width="3.4" stroke-linejoin="miter" stroke-miterlimit="10"/>
<path d="M683.49,1010.08 L694.09,1032.68 L672.89,1032.68 Z" fill="#fff" stroke="#000" stroke-width="3.4" stroke-linejoin="miter" stroke-miterlimit="10"/>
<path d="M708.61,982.18 L719.21,1004.78 L698.01,1004.78 Z" fill="#fff" stroke="#000" stroke-width="3.4" stroke-linejoin="miter" stroke-miterlimit="10"/>
<path d="M767.81,954.27 L778.41,976.87 L757.21,976.87 Z" fill="#fff" stroke="#000" stroke-width="3.4" stroke-linejoin="miter" stroke-miterlimit="10"/>
<path d="M845.60,926.36 L856.20,948.96 L835.00,948.96 Z" fill="#fff" stroke="#000" stroke-width="3.4" stroke-linejoin="miter" stroke-miterlimit="10"/>
<path d="M846.08,898.46 L856.68,921.06 L835.48,921.06 Z" fill="#fff" stroke="#000" stroke-width="3.4" stroke-linejoin="miter" stroke-miterlimit="10"/>
<path d="M873.65,870.55 L884.25,893.15 L863.05,893.15 Z" fill="#fff" stroke="#000" stroke-width="3.4" stroke-linejoin="miter" stroke-miterlimit="10"/>
<path d="M878.87,842.64 L889.47,865.24 L868.27,865.24 Z" fill="#fff" stroke="#000" stroke-width="3.4" stroke-linejoin="miter" stroke-miterlimit="10"/>
<path d="M923.60,814.74 L934.20,837.34 L913.00,837.34 Z" fill="#fff" stroke="#000" stroke-width="3.4" stroke-linejoin="miter" stroke-miterlimit="10"/>
<path d="M980.42,786.83 L991.02,809.43 L969.82,809.43 Z" fill="#fff" stroke="#000" stroke-width="3.4" stroke-linejoin="miter" stroke-miterlimit="10"/>
<path d="M1037.68,758.92 L1048.28,781.52 L1027.08,781.52 Z" fill="#fff" stroke="#000" stroke-width="3.4" stroke-linejoin="miter" stroke-miterlimit="10"/>
<path d="M1041.57,731.02 L1052.17,753.62 L1030.97,753.62 Z" fill="#fff" stroke="#000" stroke-width="3.4" stroke-linejoin="miter" stroke-miterlimit="10"/>
<path d="M1045.07,703.11 L1055.67,725.71 L1034.47,725.71 Z" fill="#fff" stroke="#000" stroke-width="3.4" stroke-linejoin="miter" stroke-miterlimit="10"/>
<path d="M1079.65,675.20 L1090.25,697.80 L1069.05,697.80 Z" fill="#fff" stroke="#000" stroke-width="3.4" stroke-linejoin="miter" stroke-miterlimit="10"/>
<path d="M1105.14,647.30 L1115.74,669.90 L1094.54,669.90 Z" fill="#fff" stroke="#000" stroke-width="3.4" stroke-linejoin="miter" stroke-miterlimit="10"/>
<path d="M1108.82,619.39 L1119.42,641.99 L1098.22,641.99 Z" fill="#fff" stroke="#000" stroke-width="3.4" stroke-linejoin="miter" stroke-miterlimit="10"/>
<path d="M1119.62,591.48 L1130.22,614.08 L1109.02,614.08 Z" fill="#fff" stroke="#000" stroke-width="3.4" stroke-linejoin="miter" stroke-miterlimit="10"/>
<path d="M1124.24,563.58 L1134.84,586.18 L1113.64,586.18 Z" fill="#fff" stroke="#000" stroke-width="3.4" stroke-linejoin="miter" stroke-miterlimit="10"/>
<path d="M1130.73,535.67 L1141.33,558.27 L1120.13,558.27 Z" fill="#fff" stroke="#000" stroke-width="3.4" stroke-linejoin="miter" stroke-miterlimit="10"/>
<path d="M1135.05,507.76 L1145.65,530.36 L1124.45,530.36 Z" fill="#fff" stroke="#000" stroke-width="3.4" stroke-linejoin="miter" stroke-miterlimit="10"/>
<path d="M1138.29,479.86 L1148.89,502.46 L1127.69,502.46 Z" fill="#fff" stroke="#000" stroke-width="3.4" stroke-linejoin="miter" stroke-miterlimit="10"/>
<path d="M1139.37,451.95 L1149.97,474.55 L1128.77,474.55 Z" fill="#fff" stroke="#000" stroke-width="3.4" stroke-linejoin="miter" stroke-miterlimit="10"/>
<path d="M1147.23,424.04 L1157.83,446.64 L1136.63,446.64 Z" fill="#fff" stroke="#000" stroke-width="3.4" stroke-linejoin="miter" stroke-miterlimit="10"/>
<path d="M1148.31,396.14 L1158.91,418.74 L1137.71,418.74 Z" fill="#fff" stroke="#000" stroke-width="3.4" stroke-linejoin="miter" stroke-miterlimit="10"/>
<path d="M1160.63,368.23 L1171.23,390.83 L1150.03,390.83 Z" fill="#fff" stroke="#000" stroke-width="3.4" stroke-linejoin="miter" stroke-miterlimit="10"/>
<path d="M1171.00,340.32 L1181.60,362.92 L1160.40,362.92 Z" fill="#fff" stroke="#000" stroke-width="3.4" stroke-linejoin="miter" stroke-miterlimit="10"/>
<path d="M1173.16,312.42 L1183.76,335.02 L1162.56,335.02 Z" fill="#fff" stroke="#000" stroke-width="3.4" stroke-linejoin="miter" stroke-miterlimit="10"/>
<path d="M1183.19,284.51 L1193.79,307.11 L1172.59,307.11 Z" fill="#fff" stroke="#000" stroke-width="3.4" stroke-linejoin="miter" stroke-miterlimit="10"/>
<path d="M1189.67,256.60 L1200.27,279.20 L1179.07,279.20 Z" fill="#fff" stroke="#000" stroke-width="3.4" stroke-linejoin="miter" stroke-miterlimit="10"/>
<path d="M1190.75,228.70 L1201.35,251.30 L1180.15,251.30 Z" fill="#fff" stroke="#000" stroke-width="3.4" stroke-linejoin="miter" stroke-miterlimit="10"/>
<path d="M1205.88,200.79 L1216.48,223.39 L1195.28,223.39 Z" fill="#fff" stroke="#000" stroke-width="3.4" stroke-linejoin="miter" stroke-miterlimit="10"/>
<path d="M1233.97,172.88 L1244.57,195.48 L1223.37,195.48 Z" fill="#fff" stroke="#000" stroke-width="3.4" stroke-linejoin="miter" stroke-miterlimit="10"/>
<path d="M1254.45,144.98 L1265.05,167.58 L1243.85,167.58 Z" fill="#fff" stroke="#000" stroke-width="3.4" stroke-linejoin="miter" stroke-miterlimit="10"/>
<path d="M1259.29,117.07 L1269.89,139.67 L1248.69,139.67 Z" fill="#fff" stroke="#000" stroke-width="3.4" stroke-linejoin="miter" stroke-miterlimit="10"/>
<path d="M1270.87,89.16 L1281.47,111.76 L1260.27,111.76 Z" fill="#fff" stroke="#000" stroke-width="3.4" stroke-linejoin="miter" stroke-miterlimit="10"/>
<path d="M1297.67,61.26 L1308.27,83.86 L1287.07,83.86 Z" fill="#fff" stroke="#000" stroke-width="3.4" stroke-linejoin="miter" stroke-miterlimit="10"/>
</g>
<rect x="1857.00" y="212.00" width="28" height="28" rx="1.5" fill="#FF0000"/>
<text x="1914" y="247.2" font-family="Liberation Serif, serif" font-size="78" textLength="91.7" lengthAdjust="spacingAndGlyphs">A1</text>
<use href="#dm" x="1871.00" y="336.45" fill="#1560B4"/><path d="M1871.00,327.85 L1879.40,336.45 L1871.00,345.05 L1862.60,336.45 Z" fill="#0070C0"/>
<text x="1914" y="357.6" font-family="Liberation Serif, serif" font-size="78" textLength="196.0" lengthAdjust="spacingAndGlyphs">A3-CI</text>
<use href="#dm" x="1871.00" y="446.90" fill="#959595"/>
<text x="1914" y="468.1" font-family="Liberation Serif, serif" font-size="78" textLength="216.5" lengthAdjust="spacingAndGlyphs">A3-CL</text>
<use href="#dm" x="1871.00" y="557.35" fill="#FFC000"/>
<text x="1914" y="578.6" font-family="Liberation Serif, serif" font-size="78" textLength="221.0" lengthAdjust="spacingAndGlyphs">A3-DL</text>
<use href="#dm" x="1871.00" y="667.80" fill="#00B050"/>
<text x="1914" y="689.0" font-family="Liberation Serif, serif" font-size="78" textLength="198.9" lengthAdjust="spacingAndGlyphs">A3-SS</text>
<circle cx="1871.00" cy="778.25" r="12" fill="#0070C0" stroke="#000" stroke-width="3.7"/>
<text x="1914" y="799.5" font-family="Liberation Serif, serif" font-size="78" textLength="196.0" lengthAdjust="spacingAndGlyphs">A4-CI</text>
<circle cx="1871.00" cy="888.70" r="12" fill="#BFBFBF" stroke="#000" stroke-width="3.7"/>
<text x="1914" y="909.9" font-family="Liberation Serif, serif" font-size="78" textLength="216.5" lengthAdjust="spacingAndGlyphs">A4-CL</text>
<circle cx="1871.00" cy="999.15" r="12" fill="#FFC000" stroke="#000" stroke-width="3.7"/>
<text x="1914" y="1020.4" font-family="Liberation Serif, serif" font-size="78" textLength="221.0" lengthAdjust="spacingAndGlyphs">A4-DL</text>
<rect x="1850.60" y="1103.80" width="40.8" height="11.6" rx="1" fill="#000"/>
<text x="1914" y="1130.8" font-family="Liberation Serif, serif" font-size="78" textLength="198.9" lengthAdjust="spacingAndGlyphs">A4-SS</text>
<path d="M1871.00,1209.70 L1881.60,1232.30 L1860.40,1232.30 Z" fill="#fff" stroke="#000" stroke-width="3.4" stroke-linejoin="miter" stroke-miterlimit="10"/>
<text x="1914" y="1241.3" font-family="Liberation Serif, serif" font-size="78" textLength="93.9" lengthAdjust="spacingAndGlyphs">A5</text>
<text x="269" y="1320.7" text-anchor="end" font-family="Liberation Serif, serif" font-size="77" textLength="94.1" lengthAdjust="spacingAndGlyphs">0.0</text>
<text x="269" y="1195.1" text-anchor="end" font-family="Liberation Serif, serif" font-size="77" textLength="94.1" lengthAdjust="spacingAndGlyphs">0.1</text>
<text x="269" y="1069.5" text-anchor="end" font-family="Liberation Serif, serif" font-size="77" textLength="94.1" lengthAdjust="spacingAndGlyphs">0.2</text>
<text x="269" y="944.0" text-anchor="end" font-family="Liberation Serif, serif" font-size="77" textLength="94.1" lengthAdjust="spacingAndGlyphs">0.3</text>
<text x="269" y="818.4" text-anchor="end" font-family="Liberation Serif, serif" font-size="77" textLength="94.1" lengthAdjust="spacingAndGlyphs">0.4</text>
<text x="269" y="692.8" text-anchor="end" font-family="Liberation Serif, serif" font-size="77" textLength="94.1" lengthAdjust="spacingAndGlyphs">0.5</text>
<text x="269" y="567.2" text-anchor="end" font-family="Liberation Serif, serif" font-size="77" textLength="94.1" lengthAdjust="spacingAndGlyphs">0.6</text>
<text x="269" y="441.6" text-anchor="end" font-family="Liberation Serif, serif" font-size="77" textLength="94.1" lengthAdjust="spacingAndGlyphs">0.7</text>
<text x="269" y="316.1" text-anchor="end" font-family="Liberation Serif, serif" font-size="77" textLength="94.1" lengthAdjust="spacingAndGlyphs">0.8</text>
<text x="269" y="190.5" text-anchor="end" font-family="Liberation Serif, serif" font-size="77" textLength="94.1" lengthAdjust="spacingAndGlyphs">0.9</text>
<text x="269" y="64.9" text-anchor="end" font-family="Liberation Serif, serif" font-size="77" textLength="95.9" lengthAdjust="spacingAndGlyphs">1.0</text>
<text x="342.1" y="1425.8" text-anchor="middle" font-family="Liberation Serif, serif" font-size="77" textLength="76.2" lengthAdjust="spacingAndGlyphs">10</text>
<text x="802.3" y="1425.8" text-anchor="middle" font-family="Liberation Serif, serif" font-size="77" textLength="112.1" lengthAdjust="spacingAndGlyphs">100</text>
<text x="1262.2" y="1425.8" text-anchor="middle" font-family="Liberation Serif, serif" font-size="77" textLength="167.2" lengthAdjust="spacingAndGlyphs">1,000</text>
<text x="1722.2" y="1425.8" text-anchor="middle" font-family="Liberation Serif, serif" font-size="77" textLength="204.5" lengthAdjust="spacingAndGlyphs">10,000</text>
<text x="2183.0" y="1425.8" text-anchor="middle" font-family="Liberation Serif, serif" font-size="77" textLength="238.8" lengthAdjust="spacingAndGlyphs">100,000</text>
<text transform="translate(68.5,675.3) rotate(-90)" text-anchor="middle" font-family="Liberation Serif, serif" font-weight="bold" font-size="74" textLength="349" lengthAdjust="spacingAndGlyphs">Frequency</text>
<text x="1035.6" y="1547.8" font-family="Liberation Serif, serif" font-weight="bold" font-style="italic" font-size="76.7">K</text>
<text x="1089.8" y="1565.2" font-family="Liberation Serif, serif" font-weight="bold" font-style="italic" font-size="48.4">s</text>
<text x="1130.3" y="1541.5" font-family="Liberation Serif, serif" font-weight="bold" font-size="67">(</text>
<text x="1152.5" y="1547.8" font-family="Liberation Serif, serif" font-weight="bold" font-size="75.6" textLength="129.8" lengthAdjust="spacingAndGlyphs">mm</text>
<text x="1302.5" y="1547.8" font-family="Liberation Serif, serif" font-weight="bold" font-size="75.6">h</text>
<text x="1344" y="1534.4" font-family="Liberation Serif, serif" font-weight="bold" font-size="60" textLength="31.5" lengthAdjust="spacingAndGlyphs">−</text>
<text x="1370.4" y="1526.2" font-family="Liberation Serif, serif" font-weight="bold" font-size="50">1</text>
<text x="1396.5" y="1541.5" font-family="Liberation Serif, serif" font-weight="bold" font-size="67">)</text>
</svg></body></html>
